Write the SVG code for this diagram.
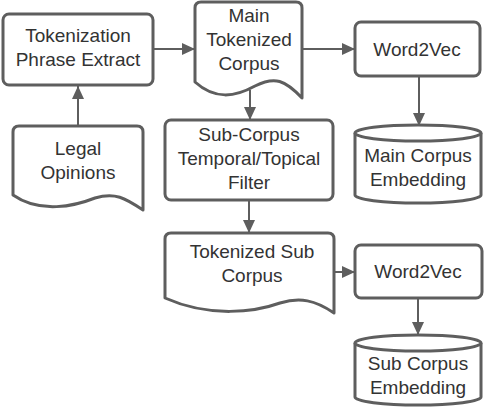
<svg xmlns="http://www.w3.org/2000/svg" width="485" height="409" viewBox="0 0 485 409">
<style>
.s{fill:#fff;stroke:#5e5e5e;stroke-width:3;stroke-linejoin:round}
.c{fill:none;stroke:#5e5e5e;stroke-width:2}
.t{font-family:"Liberation Sans",Arial,sans-serif;font-size:19px;fill:#333;text-anchor:middle}
</style>
<defs>
<marker id="ah" markerUnits="userSpaceOnUse" markerWidth="14" markerHeight="12" refX="13" refY="6" orient="auto">
<path d="M0,0 L13,6 L0,12 Z" fill="#5e5e5e"/>
</marker>
</defs>
<rect width="485" height="409" fill="#fff"/>
<g id="connectors">
<line class="c" x1="153" y1="49" x2="195" y2="49" marker-end="url(#ah)"/>
<line class="c" x1="78" y1="126" x2="78" y2="86" marker-end="url(#ah)"/>
<line class="c" x1="302" y1="49" x2="355" y2="49" marker-end="url(#ah)"/>
<line class="c" x1="250" y1="90" x2="250" y2="120" marker-end="url(#ah)"/>
<line class="c" x1="419" y1="76" x2="419" y2="126" marker-end="url(#ah)"/>
<line class="c" x1="249" y1="200" x2="249" y2="233" marker-end="url(#ah)"/>
<line class="c" x1="335" y1="272" x2="355" y2="272" marker-end="url(#ah)"/>
<line class="c" x1="418" y1="298" x2="418" y2="335" marker-end="url(#ah)"/>
</g>
<g id="tokenization">
<rect class="s" x="3" y="14" width="150" height="71" rx="6"/>
<text class="t" x="78" y="42">Tokenization</text>
<text class="t" x="78" y="66">Phrase Extract</text>
</g>
<g id="main-corpus">
<path class="s" d="M195,82 L195,8 Q195,2 201,2 L296,2 Q302,2 302,8 L302,98 C285,80 275,76 255,86 C235,97 215,100 195,82 Z"/>
<text class="t" x="249" y="22">Main</text>
<text class="t" x="249" y="46">Tokenized</text>
<text class="t" x="249" y="70">Corpus</text>
</g>
<g id="word2vec-1">
<rect class="s" x="355" y="22" width="125" height="54" rx="6"/>
<text class="t" x="417" y="56">Word2Vec</text>
</g>
<g id="main-embedding">
<path class="s" d="M355,133 L355,195 A63,8 0 0 0 481,195 L481,133 A63,8 0 0 0 355,133 Z"/>
<path class="s" d="M355,133 A63,8 0 0 0 481,133" fill="none"/>
<text class="t" x="418" y="162">Main Corpus</text>
<text class="t" x="418" y="186">Embedding</text>
</g>
<g id="legal-opinions">
<path class="s" d="M13,195 L13,132 Q13,126 19,126 L137,126 Q143,126 143,132 L143,210 C125,198 115,192 95,198 C75,206 40,214 13,195 Z"/>
<text class="t" x="78" y="155">Legal</text>
<text class="t" x="78" y="179">Opinions</text>
</g>
<g id="sub-corpus-filter">
<rect class="s" x="165" y="120" width="168" height="80" rx="6"/>
<text class="t" x="249" y="141">Sub-Corpus</text>
<text class="t" x="249" y="165">Temporal/Topical</text>
<text class="t" x="249" y="189">Filter</text>
</g>
<g id="tokenized-sub-corpus">
<path class="s" d="M165,298 L165,239 Q165,233 171,233 L328,233 Q334,233 334,239 L334,313 C315,300 300,297 280,303 C255,312 210,318 165,298 Z"/>
<text class="t" x="252" y="258">Tokenized Sub</text>
<text class="t" x="252" y="282">Corpus</text>
</g>
<g id="word2vec-2">
<rect class="s" x="355" y="245" width="127" height="53" rx="6"/>
<text class="t" x="418" y="278">Word2Vec</text>
</g>
<g id="sub-embedding">
<path class="s" d="M355,343 L355,397 A63,8 0 0 0 481,397 L481,343 A63,8 0 0 0 355,343 Z"/>
<path class="s" d="M355,343 A63,8 0 0 0 481,343" fill="none"/>
<text class="t" x="418" y="370">Sub Corpus</text>
<text class="t" x="418" y="394">Embedding</text>
</g>
</svg>
